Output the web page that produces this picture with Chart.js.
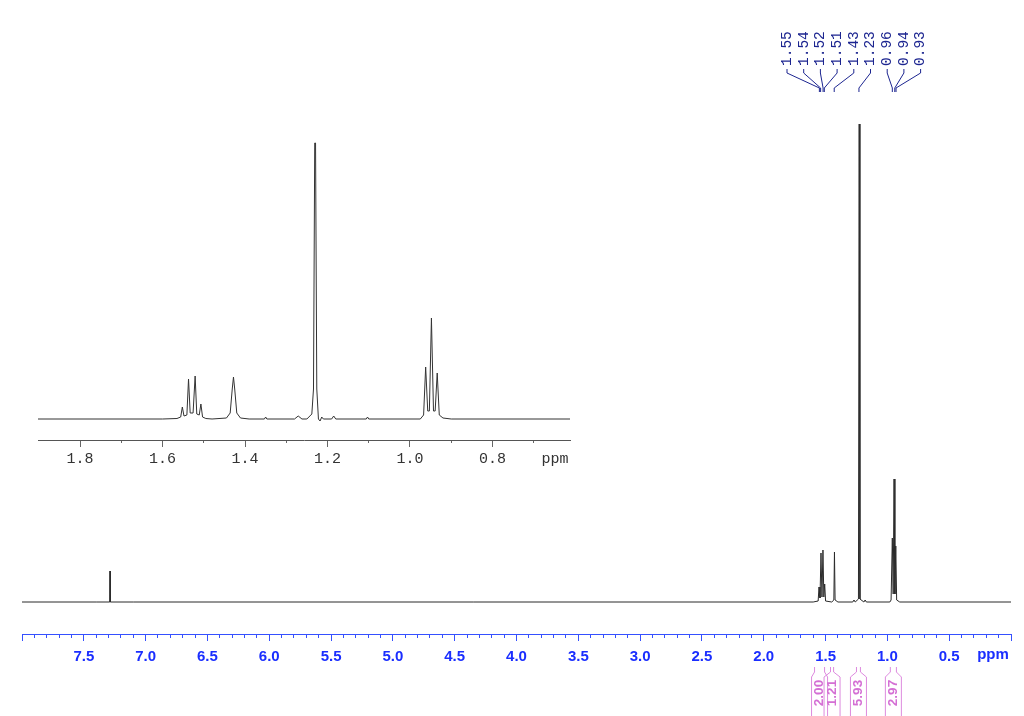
<!DOCTYPE html>
<html>
<head>
<meta charset="utf-8">
<script src="https://cdn.jsdelivr.net/npm/chart.js@4.4.1/dist/chart.umd.min.js"></script>
<style>
  body { margin: 0; background: #fff; }
  #wrap { position: relative; width: 1024px; height: 716px; }
  #mainChart { position: absolute; left: 0; top: 0; }
  #insetChart { position: absolute; left: 0; top: 0; }
</style>
</head>
<body>
<div id="wrap">
  <canvas id="mainChart" width="1024" height="716"></canvas>
  <canvas id="insetChart" width="600" height="480"></canvas>
</div>
<script>
// full spectrum trace (ppm, intensity a.u.)
const mainPpm = [8.0, 7.40, 7.290, 7.288, 7.286, 7.10, 1.60, 1.56, 1.553, 1.545, 1.537, 1.529, 1.521, 1.514, 1.507, 1.50, 1.45, 1.433, 1.428, 1.423, 1.40, 1.28, 1.27, 1.26, 1.234, 1.228, 1.222, 1.19, 1.18, 1.17, 0.98, 0.97, 0.960, 0.953, 0.946, 0.939, 0.932, 0.925, 0.90, 0.0];
const mainIntensity = [0, 0, 0, 31, 0, 0, 0, 1, 15, 4, 49, 5, 52, 5, 18, 1, 0, 2, 50, 2, 0, 0, 2, 0, 3, 478, 3, 0, 2, 0, 0, 2, 64, 8, 123, 8, 56, 2, 0, 0];

// expanded region 1.9 - 0.6 ppm
const insetPpm = [1.902, 1.60, 1.565, 1.556, 1.552, 1.548, 1.541, 1.537, 1.533, 1.526, 1.521, 1.517, 1.511, 1.507, 1.503, 1.495, 1.48, 1.445, 1.436, 1.431, 1.428, 1.425, 1.420, 1.411, 1.39, 1.353, 1.350, 1.347, 1.28, 1.271, 1.262, 1.25, 1.238, 1.234, 1.231, 1.229, 1.226, 1.222, 1.218, 1.214, 1.21, 1.19, 1.185, 1.18, 1.106, 1.103, 1.100, 0.975, 0.967, 0.962, 0.957, 0.953, 0.948, 0.943, 0.939, 0.934, 0.929, 0.92, 0.90, 0.612];
const insetIntensity = [0, 0, 0.5, 2, 12, 3, 4, 40, 6, 6, 43, 5, 4, 15, 2, 0.5, 0, 1, 6, 30, 42, 30, 6, 1, 0, 0, 2, 0, 0, 3, 0, 0, 5, 30, 276, 276, 30, 0, -2, 2, 0, 0, 3, 0, 0, 2, 0, 0, 4, 52, 8, 8, 101, 8, 8, 46, 4, 1, 0, 0];

const mainTickLabels = ['7.5', '7.0', '6.5', '6.0', '5.5', '5.0', '4.5', '4.0', '3.5', '3.0', '2.5', '2.0', '1.5', '1.0', '0.5'];
const insetTickLabels = ['1.8', '1.6', '1.4', '1.2', '1.0', '0.8'];

const peakLabels = ['1.55', '1.54', '1.52', '1.51', '1.43', '1.23', '0.96', '0.94', '0.93'];

const integralValues = ['2.00', '1.21', '5.93', '2.97'];
const integralStart = [1.589, 1.460, 1.250, 0.976];
const integralEnd = [1.508, 1.435, 1.218, 0.927];

const blue = '#1a2eff';
const navy = '#1c2590';
const pink = '#d46fd4';

function toPoints(xs, ys) {
  return xs.map((x, i) => ({ x: x, y: ys[i] }));
}

const mainExtras = {
  id: 'mainExtras',
  afterDraw(chart) {
    const ctx = chart.ctx;
    const xs = chart.scales.x;
    ctx.save();

    // ppm unit
    ctx.fillStyle = blue;
    ctx.font = 'bold 15px "Liberation Sans", Arial, sans-serif';
    ctx.textAlign = 'center';
    ctx.textBaseline = 'middle';
    ctx.fillText('ppm', 993, 655);

    // peak labels with connectors
    ctx.font = '14.5px "Liberation Mono", "Courier New", monospace';
    ctx.strokeStyle = navy;
    ctx.fillStyle = navy;
    ctx.lineWidth = 1;
    peakLabels.forEach((lab, i) => {
      const lx = 787 + i * 16.7;
      const px = xs.getPixelForValue(parseFloat(lab));
      ctx.save();
      ctx.translate(lx, 66);
      ctx.rotate(-Math.PI / 2);
      ctx.textAlign = 'left';
      ctx.textBaseline = 'middle';
      ctx.fillText(lab, 0, 0);
      ctx.restore();
      ctx.beginPath();
      ctx.moveTo(lx, 69);
      ctx.lineTo(lx, 73);
      ctx.lineTo(px, 88);
      ctx.lineTo(px, 92);
      ctx.stroke();
    });

    // integrals
    integralValues.forEach((val, i) => {
      const x1 = xs.getPixelForValue(integralStart[i]);
      const x2 = xs.getPixelForValue(integralEnd[i]);
      const c = (x1 + x2) / 2;
      const half = Math.max((x2 - x1) / 2 + 3, 8);
      ctx.strokeStyle = '#dd8ade';
      ctx.beginPath();
      ctx.moveTo(x1, 667);
      ctx.lineTo(x1, 672);
      ctx.lineTo(c - half, 677);
      ctx.lineTo(c - half, 716);
      ctx.moveTo(x2, 667);
      ctx.lineTo(x2, 672);
      ctx.lineTo(c + half, 677);
      ctx.lineTo(c + half, 716);
      ctx.stroke();
      ctx.save();
      ctx.translate(c, 693);
      ctx.rotate(-Math.PI / 2);
      ctx.fillStyle = pink;
      ctx.font = 'bold 13.5px "Liberation Sans", Arial, sans-serif';
      ctx.textAlign = 'center';
      ctx.textBaseline = 'middle';
      ctx.fillText(val, 0, 0);
      ctx.restore();
    });
    ctx.restore();
  }
};

new Chart('mainChart', {
  type: 'line',
  data: {
    datasets: [{
      data: toPoints(mainPpm, mainIntensity),
      borderColor: '#2a2a2a',
      borderWidth: 1,
      pointRadius: 0,
      fill: false,
      tension: 0
    }]
  },
  options: {
    responsive: false,
    animation: false,
    layout: { padding: { left: 22, right: 13, top: 100, bottom: 0 } },
    plugins: { legend: { display: false }, tooltip: { enabled: false } },
    scales: {
      x: {
        type: 'linear',
        reverse: true,
        min: 0,
        max: 8,
        afterFit(scale) { scale.height = 82; },
        afterBuildTicks(scale) {
          const t = [];
          for (let i = 0; i <= 80; i++) t.push({ value: i / 10 });
          scale.ticks = t;
        },
        border: { display: true, color: '#3550ff', width: 1 },
        grid: {
          drawOnChartArea: false,
          drawTicks: true,
          tickLength: 7,
          tickColor: '#3550ff',
          tickBorderDash: (c) => (Math.round(c.tick.value * 10) % 5 === 0 ? [] : [3, 20])
        },
        ticks: {
          autoSkip: false,
          maxRotation: 0,
          minRotation: 0,
          padding: 7,
          color: blue,
          font: { family: '"Liberation Sans", Arial, sans-serif', size: 15, weight: 'bold' },
          callback: (v) => (mainTickLabels.includes(Number(v).toFixed(1)) ? Number(v).toFixed(1) : '')
        }
      },
      y: { display: false, min: -32, max: 502 }
    }
  },
  plugins: [mainExtras]
});

const insetExtras = {
  id: 'insetExtras',
  afterDraw(chart) {
    const ctx = chart.ctx;
    ctx.save();
    ctx.fillStyle = '#333';
    ctx.font = '15px "Liberation Mono", "Courier New", monospace';
    ctx.textAlign = 'center';
    ctx.textBaseline = 'middle';
    ctx.fillText('ppm', 555, 459);
    ctx.restore();
  }
};

new Chart('insetChart', {
  type: 'line',
  data: {
    datasets: [{
      data: toPoints(insetPpm, insetIntensity),
      borderColor: '#333',
      borderWidth: 1,
      pointRadius: 0,
      fill: false,
      tension: 0
    }]
  },
  options: {
    responsive: false,
    animation: false,
    layout: { padding: { left: 38, right: 30, top: 130, bottom: 0 } },
    plugins: { legend: { display: false }, tooltip: { enabled: false } },
    scales: {
      x: {
        type: 'linear',
        reverse: true,
        min: 0.612,
        max: 1.902,
        afterFit(scale) { scale.height = 40; },
        afterBuildTicks(scale) {
          const t = [];
          for (let i = 7; i <= 18; i++) t.push({ value: i / 10 });
          scale.ticks = t;
        },
        border: { display: true, color: '#555', width: 1 },
        grid: {
          drawOnChartArea: false,
          drawTicks: true,
          tickLength: 7,
          tickColor: '#666',
          tickBorderDash: (c) => (Math.round(c.tick.value * 10) % 2 === 0 ? [] : [2, 20])
        },
        ticks: {
          autoSkip: false,
          maxRotation: 0,
          minRotation: 0,
          padding: 3,
          color: '#333',
          font: { family: '"Liberation Mono", "Courier New", monospace', size: 15 },
          callback: (v) => (insetTickLabels.includes(Number(v).toFixed(1)) ? Number(v).toFixed(1) : '')
        }
      },
      y: { display: false, min: -21, max: 289 }
    }
  },
  plugins: [insetExtras]
});
</script>
</body>
</html>
